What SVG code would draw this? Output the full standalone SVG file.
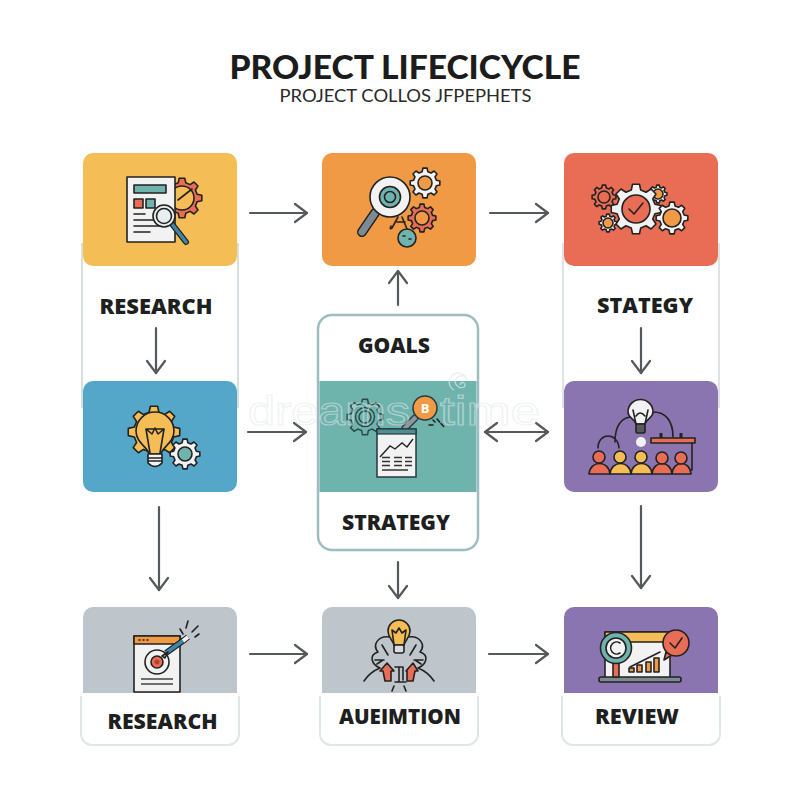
<svg xmlns="http://www.w3.org/2000/svg" width="800" height="800" viewBox="0 0 800 800">
<style>
.t{font-family:"Open Sans","Liberation Sans",sans-serif;font-weight:800;font-size:20.5px;fill:#1e1f20;text-anchor:middle}
.ttl{font-family:Lato,"Liberation Sans",sans-serif;font-weight:900;font-size:32px;fill:#1c1c1c;text-anchor:middle}
.sub{font-family:Lato,"Liberation Sans",sans-serif;font-weight:400;font-size:18px;fill:#2a2a2a;text-anchor:middle}
.ar{fill:none;stroke:#55595c;stroke-width:2.200;stroke-linecap:round;stroke-linejoin:round}
.k{stroke:#222;stroke-width:1.600;stroke-linejoin:round;stroke-linecap:round}
.n{fill:none}
.w{fill:#f1f2f1}.y{fill:#f5bd55}.o{fill:#f19a45}.r{fill:#e96d55}.b{fill:#3f86a8}.e{fill:#6fb3ad}.gy{fill:#7d8a92}
.edge{fill:none;stroke:#d5dfdf;stroke-width:2}
.cf{fill:#fff}
.cs{fill:none;stroke:#dfe6e6;stroke-width:2}
.wm{font-family:"Liberation Sans",sans-serif;font-size:40px;fill:none;stroke:#e3e9e9;stroke-opacity:.55;stroke-width:1.200;text-anchor:middle}
.gear-path{vector-effect:non-scaling-stroke}
</style>
<defs>
<path id="gear" class="gear-path" d="M7.57-1.89L9.9-1.39L9.9 1.39L7.57 1.89L6.69 4.02L7.99 6.02L6.02 7.99L4.02 6.69L1.89 7.57L1.39 9.9L-1.39 9.9L-1.89 7.57L-4.02 6.69L-6.02 7.99L-7.99 6.02L-6.69 4.02L-7.57 1.89L-9.9 1.39L-9.9-1.39L-7.57-1.89L-6.69-4.02L-7.99-6.02L-6.02-7.99L-4.02-6.69L-1.89-7.57L-1.39-9.9L1.39-9.9L1.89-7.57L4.02-6.69L6.02-7.99L7.99-6.02L6.69-4.02Z"/>
<marker id="head" viewBox="0 0 18 22" refX="15" refY="11" markerWidth="18" markerHeight="22" markerUnits="userSpaceOnUse" orient="auto-start-reverse"><path d="M3 2L15 11L3 20" class="ar"/></marker>
</defs>
<rect width="800" height="800" fill="#fff"/>

<g id="title">
<text class="ttl" x="405" y="78.500" textLength="351" lengthAdjust="spacingAndGlyphs">PROJECT LIFECICYCLE</text>
<text class="sub" x="405.500" y="101.500" textLength="252" lengthAdjust="spacingAndGlyphs">PROJECT COLLOS JFPEPHETS</text>
</g>

<g id="node-research-top">
<path class="edge" d="M82 243V408M238 243V408"/>
<rect x="83" y="153" width="154" height="113" rx="10" fill="#f5bd55"/>
<use href="#gear" transform="translate(182 198) scale(2)" class="r k"/>
<circle cx="182" cy="198" r="12" class="y k"/>
<path d="M178 200L192 189" class="k n"/>
<rect x="127" y="177" width="48" height="65" class="w k"/>
<rect x="134" y="185" width="32" height="8" class="e k"/>
<rect x="134" y="199" width="9" height="9" class="r k"/>
<rect x="146" y="199" width="9" height="9" class="e k"/>
<path d="M134 214H145M134 220H153M134 226H160M134 232H150" class="k n"/>
<path d="M172 224L186 242" stroke="#222" stroke-width="6" stroke-linecap="round"/>
<path d="M172 224L186 242" stroke="#3f86a8" stroke-width="3.500" stroke-linecap="round"/>
<circle cx="164" cy="216" r="11" fill="#e9eeee" class="k"/>
<circle cx="164" cy="216" r="7.500" class="k n"/>
<text class="t" x="156" y="314" textLength="113" lengthAdjust="spacingAndGlyphs">RESEARCH</text>
</g>

<g id="node-goals-top">
<rect x="322" y="153" width="154" height="113" rx="10" fill="#f19a45"/>
<path d="M375 213L362 232" stroke="#222" stroke-width="10" stroke-linecap="round"/>
<path d="M375 213L362 232" stroke="#7d8a92" stroke-width="7" stroke-linecap="round"/>
<circle cx="390" cy="197" r="20" class="w k"/>
<circle cx="390" cy="197" r="10.500" class="e k"/>
<circle cx="390" cy="197" r="5.500" class="n k"/>
<use href="#gear" transform="translate(425 183) scale(1.500)" class="w k"/>
<circle cx="425" cy="183" r="7" class="o k"/>
<use href="#gear" transform="translate(422 218) scale(1.400)" class="r k"/>
<circle cx="422" cy="218" r="7" class="o k"/>
<path d="M398 217L392 228Q389 230 391 226M397 222H405M402 217L407 229" class="n k"/>
<circle cx="407" cy="238" r="9" class="e k"/>
<path d="M403 236h2M409 239h2" class="n k"/>
</g>

<g id="node-stategy-top">
<path d="M563 243V408M719 243V408" fill="none" stroke="#dde2e5" stroke-width="2"/>
<rect x="564" y="153" width="154" height="113" rx="10" fill="#e96d55"/>
<use href="#gear" transform="translate(604 197) scale(1.200)" class="r k"/>
<circle cx="604" cy="197" r="6" class="r k"/>
<use href="#gear" transform="translate(608 223) scale(.9)" class="w k"/>
<circle cx="608" cy="223" r="5" class="o k"/>
<use href="#gear" transform="translate(658 194) scale(.9)" class="w k"/>
<circle cx="658" cy="194" r="5" class="o k"/>
<use href="#gear" transform="translate(636 209) scale(2.500)" class="w k"/>
<circle cx="636" cy="209" r="14" class="r k"/>
<path d="M629 209L634 214L643 203" class="n k"/>
<use href="#gear" transform="translate(672 218) scale(1.600)" class="w k"/>
<circle cx="672" cy="218" r="9" class="o k"/>
<text class="t" x="645" y="313" textLength="96" lengthAdjust="spacingAndGlyphs">STATEGY</text>
</g>

<g id="node-idea">
<rect x="83" y="381" width="154" height="111" rx="10" fill="#55a7c9"/>
<use href="#gear" transform="translate(154 432) scale(2.600)" class="y k"/>
<path d="M149 454C148 447 136 443 136 431A19 19 0 0 1 174 431C174 443 162 447 161 454Z" class="y k"/>
<path d="M150 453L146 429L152 434L155 428L158 434L164 429L160 453M146 429H164" class="n k"/>
<path d="M148 454H162V463Q155 470 148 463Z" fill="#f1f2f1" class="k"/>
<path d="M148 458H162M148 461H162" class="n k"/>
<use href="#gear" transform="translate(185 454) scale(1.500)" class="w k"/>
<circle cx="185" cy="454" r="7" class="e k"/>
</g>

<g id="node-strategy">
<rect x="318" y="315" width="160" height="235" rx="14" fill="#fff" stroke="#9dbdc0" stroke-width="2.500"/>
<rect x="319.500" y="381" width="157" height="111" fill="#6fb3ad"/>
<use href="#gear" transform="translate(365 417) scale(1.800)" fill="#6fb3ad" stroke="#2c4a4c" stroke-width="1.500"/>
<circle cx="365" cy="417" r="9.500" fill="none" stroke="#2c4a4c" stroke-width="1.500"/>
<circle cx="365" cy="417" r="6" fill="none" stroke="#2c4a4c" stroke-width="1.500"/>
<path d="M415 418L405 428" stroke="#26393c" stroke-width="7" stroke-linecap="round"/>
<path d="M415 418L405 428" stroke="#8b989c" stroke-width="4.500" stroke-linecap="round"/>
<circle cx="425" cy="408" r="12" class="o" stroke="#26393c" stroke-width="1.500"/>
<text x="425" y="413" font-family="Open Sans,Liberation Sans,sans-serif" font-weight="700" font-size="13" fill="#fff" text-anchor="middle">B</text>
<path d="M429 425h6M437 419l7 8M433 420l2 2" class="n k" stroke-dasharray="4 2"/>
<rect x="377" y="429" width="39" height="48" fill="#f1f2f1" stroke="#26393c" stroke-width="1.500"/>
<rect x="377" y="429" width="39" height="5" fill="#4e8f92" stroke="#26393c" stroke-width="1.200"/>
<path d="M380 457L390 446L395 449L402 443L407 447L413 439" fill="none" stroke="#222" stroke-width="1.400"/>
<path d="M382 457.500H390M394 457.500H402M405 457.500H412M382 461.500H390M394 461.500H402M405 461.500H412M382 465.500H390M394 465.500H402M405 465.500H412M382 470H408" fill="none" stroke="#333" stroke-width="1.400"/>
<text class="t" x="394" y="353" textLength="72" lengthAdjust="spacingAndGlyphs">GOALS</text>
<text class="t" x="396" y="530" textLength="108" lengthAdjust="spacingAndGlyphs">STRATEGY</text>
</g>

<g id="node-team">
<rect x="564" y="381" width="154" height="111" rx="10" fill="#8a75b0"/>
<path d="M598 448C598 432 618 432 619 448M615 442C615 425 622 418 630 417M653 412C665 412 673 420 673 437" class="n k"/>
<path d="M636 424C634 418 628 418 628 412A12.500 12.500 0 0 1 653 412C653 418 647 418 645 424Z" class="w k"/>
<path d="M636 424L633 410M645 424L648 410M636 416Q640 410 645 416" class="n k"/>
<rect x="636" y="424" width="9" height="9" rx="1.500" fill="#55595c" class="k"/>
<circle cx="641" cy="442" r="5" fill="#f1f2f1"/>
<rect x="651" y="438" width="44" height="5" class="r k"/>
<path d="M661 438V433M681 438V433" stroke="#222" stroke-width="3"/>
<path d="M692 443V470H688" class="n k"/>
<g class="k">
<path d="M589 474C590 460 609 460 610 474Z" class="r"/><circle cx="599" cy="457" r="6" class="r"/>
<path d="M610 474C611 460 630 460 631 474Z" class="y"/><circle cx="620" cy="457" r="6" class="y"/>
<path d="M631 474C632 460 651 460 652 474Z" class="y"/><circle cx="641" cy="457" r="6" class="y"/>
<path d="M652 474C653 460 671 460 672 474Z" class="r"/><circle cx="662" cy="458" r="6" class="r"/>
<path d="M672 474C673 460 690 460 691 474Z" class="r"/><circle cx="681" cy="458" r="6" class="r"/>
</g>
</g>

<g id="node-research-bottom">
<rect x="83" y="607" width="154" height="100" rx="10" fill="#bfc6cb"/>
<path class="cf" d="M81 696Q81 693 84 693H236Q239 693 239 696V734A11 11 0 0 1 228 745H92A11 11 0 0 1 81 734Z"/>
<path class="cs" d="M81 696V734A11 11 0 0 0 92 745H228A11 11 0 0 0 239 734V696"/>
<rect x="134" y="636" width="46" height="56" class="w k"/>
<rect x="134" y="636" width="46" height="8" class="o k"/>
<path d="M139 640h1M143 640h1M147 640h1" class="n k"/>
<circle cx="157" cy="662" r="12" fill="#f1f2f1" class="k"/>
<circle cx="157" cy="662" r="6" class="r k"/>
<circle cx="157" cy="662" r="2.500" fill="#b5432f"/>
<path d="M141 679H173M141 684H173" fill="none" stroke="#444" stroke-width="1.600"/>
<path d="M166 653L184 640" stroke="#222" stroke-width="6"/>
<path d="M166 653L184 640" stroke="#3f86a8" stroke-width="4"/>
<path d="M183 641L188 637" stroke="#222" stroke-width="6"/>
<path d="M183 641L188 637" stroke="#f1f2f1" stroke-width="4"/>
<path d="M162 656L168 652L165 658Z" class="y k"/>
<path d="M186 628L188 621M192 632L198 626M195 637L199 634M180 629L183 634" class="n k"/>
<text class="t" x="162.500" y="729" textLength="110" lengthAdjust="spacingAndGlyphs">RESEARCH</text>
</g>

<g id="node-automation">
<rect x="322" y="607" width="154" height="100" rx="10" fill="#bfc6cb"/>
<path class="cf" d="M320 696Q320 693 323 693H475Q478 693 478 696V734A11 11 0 0 1 467 745H331A11 11 0 0 1 320 734Z"/>
<path class="cs" d="M320 696V734A11 11 0 0 0 331 745H467A11 11 0 0 0 478 734V696"/>
<path d="M390 637C378 635 372 645 378 652C368 655 372 665 380 668C370 672 366 678 364 681M382 645L388 655M375 660H384M383 660L377 664M392 691L394 686" class="n k"/>
<path d="M408 637C420 635 426 645 420 652C430 655 426 665 418 668C428 672 432 678 434 681M416 645L410 655M423 660H414M415 660L421 664M406 691L404 686" class="n k"/>
<path d="M394 645C393 640 388 638 388 631A11 11 0 0 1 410 631C410 638 405 640 404 645Z" class="y k"/>
<path d="M394 645L392 630L396 633L399 628L402 633L406 630L404 645" class="n k"/>
<rect x="394" y="645" width="10" height="8" rx="2" fill="#d9dcdc" class="k"/>
<path d="M387 663L380 671L383 671L385 681L391 681L391 671L394 671Z" class="r k"/>
<path d="M413 663L406 671L407 671L407 681L413 681L415 671L418 671Z" class="r k"/>
<path d="M395 667H402M399 667V682M395 682H406M403 667V680" class="n k"/>
<text class="t" x="400" y="724" textLength="122" lengthAdjust="spacingAndGlyphs">AUEIMTION</text>
</g>

<g id="node-review">
<rect x="564" y="607" width="154" height="100" rx="10" fill="#8a75b0"/>
<path class="cf" d="M562 696Q562 693 565 693H717Q720 693 720 696V734A11 11 0 0 1 709 745H573A11 11 0 0 1 562 734Z"/>
<path class="cs" d="M562 696V734A11 11 0 0 0 573 745H709A11 11 0 0 0 720 734V696"/>
<rect x="605" y="632" width="65" height="46" class="w k"/>
<rect x="605" y="632" width="65" height="10" class="y k"/>
<rect x="599" y="677" width="82" height="5" rx="2" fill="#7d8a92" class="k"/>
<path d="M630 667L660 652" class="n k"/>
<g class="k">
<rect x="629" y="668" width="5" height="4" class="o"/>
<rect x="637" y="665" width="5" height="7" class="o"/>
<rect x="646" y="662" width="5" height="10" class="o"/>
<rect x="654" y="658" width="5" height="14" class="o"/>
</g>
<rect x="613" y="663" width="6" height="14" class="r k"/>
<circle cx="616" cy="648" r="15.500" class="e k"/>
<circle cx="616" cy="648" r="10" class="w k"/>
<path d="M620 643A6 6 0 1 0 620 653" class="n k"/>
<path d="M666 652L664 660L672 655Z" class="r k"/>
<circle cx="676" cy="643" r="13" class="r k"/>
<path d="M670 643L675 648L682 638" class="n k"/>
<text class="t" x="637" y="724" textLength="84" lengthAdjust="spacingAndGlyphs">REVIEW</text>
</g>

<g id="connectors">
<path class="ar" marker-end="url(#head)" d="M250 213H307"/>
<path class="ar" marker-end="url(#head)" d="M490 213H548"/>
<path class="ar" marker-end="url(#head)" d="M398 305V271"/>
<path class="ar" marker-end="url(#head)" d="M156 328V373"/>
<path class="ar" marker-end="url(#head)" d="M641 328V373"/>
<path class="ar" marker-end="url(#head)" d="M248 432H306"/>
<path class="ar" marker-start="url(#head)" marker-end="url(#head)" d="M485 432H548"/>
<path class="ar" marker-end="url(#head)" d="M159 507V590"/>
<path class="ar" marker-end="url(#head)" d="M398 562V598"/>
<path class="ar" marker-end="url(#head)" d="M641 506V588"/>
<path class="ar" marker-end="url(#head)" d="M250 654H307"/>
<path class="ar" marker-end="url(#head)" d="M489 654H548"/>
</g>

<g id="watermark">
<text class="wm" x="329" y="425" textLength="162" lengthAdjust="spacingAndGlyphs">dreams</text>
<text class="wm" x="490" y="425" textLength="100" lengthAdjust="spacingAndGlyphs">time</text>
<path d="M462 385m-2 0a2.500 2.500 0 1 1 4 2a6 6 0 1 1 3-7a9 9 0 1 0-13 10" fill="none" stroke="#e3e9e9" stroke-opacity=".7" stroke-width="1.300"/>
</g>
</svg>
